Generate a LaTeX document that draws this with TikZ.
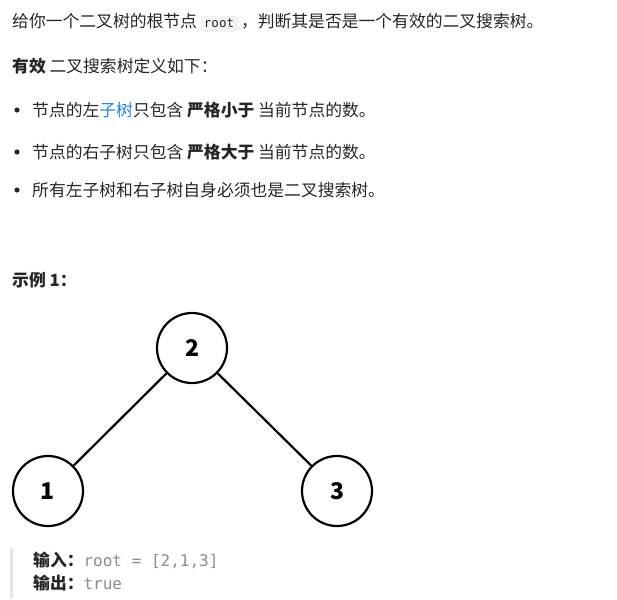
\documentclass[tikz,border=0pt]{standalone}
\usepackage{fontspec}
\setmainfont{Noto Sans CJK SC}
\newfontfamily\codefont{DejaVu Sans Mono}
\definecolor{txt}{HTML}{262626}
\definecolor{link}{HTML}{1E88E5}
\definecolor{codegray}{HTML}{8C8C8C}
\definecolor{codebg}{HTML}{F5F5F5}
\definecolor{barc}{HTML}{E5E5E5}
\begin{document}
\begin{tikzpicture}[x=1pt,y=-1pt,
  t/.style={anchor=base west,inner sep=0pt,font=\fontsize{16.8}{20}\selectfont,text=txt},
  tn/.style={draw=black,line width=2.2pt,circle,minimum size=70pt,inner sep=0pt,font=\fontsize{23}{26}\selectfont\bfseries},
  edge/.style={line width=2.2pt,black}]
\useasboundingbox (0,0) rectangle (617,599);
\node[t] (l1) at (12,28) {给你一个二叉树的根节点 \tikz[baseline=(c.base)]\node[fill=codebg,draw=barc,rounded corners=3pt,inner sep=3pt,font=\codefont\fontsize{12.5}{14}\selectfont,text=txt](c){root}; ，判断其是否是一个有效的二叉搜索树。};
\node[t] (l2) at (12,73) {\textbf{有效} 二叉搜索树定义如下：};
\node[t] (b1) at (32,116) {节点的左\textcolor{link}{子树}只包含 \textbf{严格小于} 当前节点的数。};
\node[t] (b2) at (32,158) {节点的右子树只包含 \textbf{严格大于} 当前节点的数。};
\node[t] (b3) at (32,196) {所有左子树和右子树自身必须也是二叉搜索树。};
\foreach \y in {110,152,190} \fill[txt] (17,\y) circle (2.6);
\node[t] (ex) at (12,286) {\textbf{示例 1：}};
\node[tn] (n2) at (192,348) {2};
\node[tn] (n1) at (48,491) {1};
\node[tn] (n3) at (337,491) {3};
\draw[edge] (n2) -- (n1);
\draw[edge] (n2) -- (n3);
\fill[barc] (10,548) rectangle (13,598);
\node[t] (in) at (33,566) {\textbf{输入：}\codefont\color{codegray}\fontsize{16}{18}\selectfont root = [2,1,3]};
\node[t] (out) at (33,589) {\textbf{输出：}\codefont\color{codegray}\fontsize{16}{18}\selectfont true};
\end{tikzpicture}
\end{document}
